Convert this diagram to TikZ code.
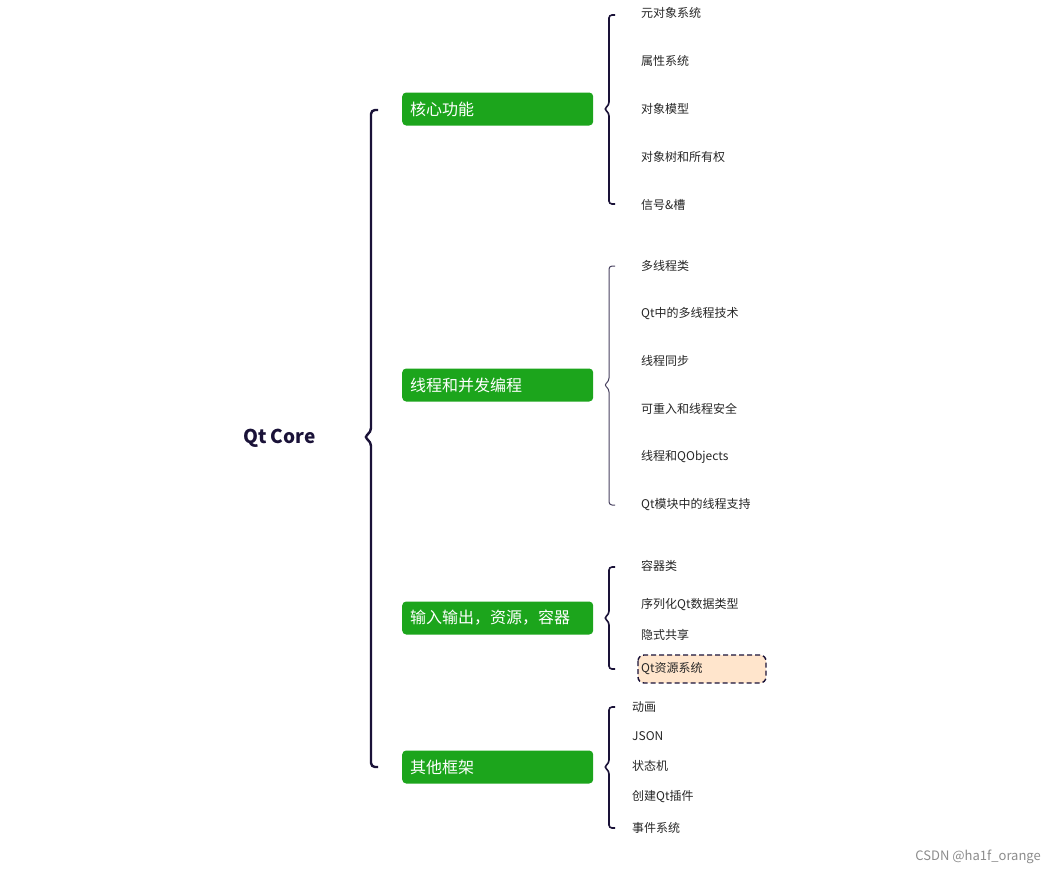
\documentclass[tikz,border=0pt]{standalone}
\usepackage{fontspec}
\setmainfont{Noto Sans CJK SC}
\begin{document}
\begin{tikzpicture}[x=1pt,y=-1pt,
  cat/.style={fill=catgreen,rounded corners=4pt,minimum width=191pt,minimum height=33pt,text=white,font=\fontsize{16}{18}\selectfont,anchor=west,text width=175pt,align=left,inner sep=0pt,inner xsep=8pt},
  leaf/.style={anchor=west,font=\fontsize{12}{14}\selectfont,text=black!85,inner sep=0pt},
  br/.style={draw=brc,line width=1.6pt,rounded corners=3pt},
  mainbr/.style={draw=brc,line width=2.4pt,rounded corners=4pt}]
\definecolor{catgreen}{HTML}{1CA51C}
\definecolor{brc}{HTML}{1A1238}
\useasboundingbox (0,0) rectangle (1056,875);
\node[font=\bfseries\fontsize{19}{22}\selectfont,text=brc,anchor=west,inner sep=0pt] (root) at (243,438) {Qt Core};
\node[cat] (c1) at (402,109) {核心功能};
\node[cat] (c2) at (402,385) {线程和并发编程};
\node[cat] (c3) at (402,618) {输入输出，资源，容器};
\node[cat] (c4) at (402,767) {其他框架};
% main brace
\draw[mainbr] (378,110) -- (371,110) -- (371,432) -- (364,437) -- (371,442) -- (371,767) -- (378,767);
% sub braces
\draw[br] (615,15) -- (609,15) -- (609,105) -- (604,109) -- (609,113) -- (609,204) -- (615,204);
\draw[br,line width=1pt,draw=brc!80] (615,266) -- (609,266) -- (609,381) -- (604,385) -- (609,389) -- (609,505) -- (615,505);
\draw[br] (615,567) -- (609,567) -- (609,614) -- (604,618) -- (609,622) -- (609,669) -- (615,669);
\draw[br] (615,707) -- (609,707) -- (609,763) -- (604,767) -- (609,771) -- (609,828) -- (615,828);
\node[leaf] (a1) at (641,13) {元对象系统};
\node[leaf] (a2) at (641,61) {属性系统};
\node[leaf] (a3) at (641,109) {对象模型};
\node[leaf] (a4) at (641,157) {对象树和所有权};
\node[leaf] (a5) at (641,205) {信号\&槽};
\node[leaf] (b1) at (641,266) {多线程类};
\node[leaf] (b2) at (641,314) {Qt中的多线程技术};
\node[leaf] (b3) at (641,361) {线程同步};
\node[leaf] (b4) at (641,409) {可重入和线程安全};
\node[leaf] (b5) at (641,457) {线程和QObjects};
\node[leaf] (b6) at (641,505) {Qt模块中的线程支持};
\node[leaf] (d1) at (641,566) {容器类};
\node[leaf] (d2) at (641,605) {序列化Qt数据类型};
\node[leaf] (d3) at (641,635) {隐式共享};
\draw[draw=brc,line width=1.4pt,dash pattern=on 5pt off 3pt,fill=orange!20!white,rounded corners=6pt] (638,655) rectangle (766,683);
\node[leaf] (d4) at (641,669) {Qt资源系统};
\node[leaf] (e1) at (632,707) {动画};
\node[leaf] (e2) at (632,736) {JSON};
\node[leaf] (e3) at (632,766) {状态机};
\node[leaf] (e4) at (632,797) {创建Qt插件};
\node[leaf] (e5) at (632,828) {事件系统};
\node[anchor=east,font=\fontsize{13}{15}\selectfont,text=black!45,inner sep=0pt] (wm) at (1041,857) {CSDN @ha1f\_orange};
\end{tikzpicture}
\end{document}
